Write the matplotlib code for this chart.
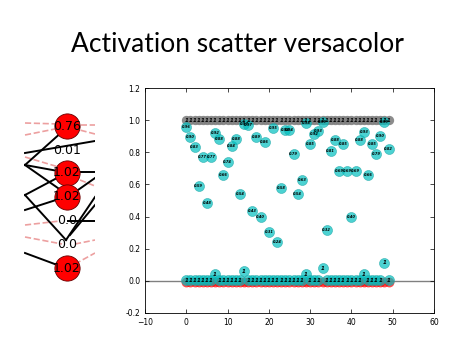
import numpy as np
import matplotlib
matplotlib.use("Agg")
import matplotlib.pyplot as plt

# --- data ---
idx = list(range(50))
top_vals = [1.0] * 50
low_vals = [0.005] * 50
for i, v in {7: 0.04, 14: 0.06, 29: 0.04, 33: 0.08, 43: 0.04, 48: 0.113}.items():
    low_vals[i] = v
red_vals = [-0.01] * 50
mid_vals = [0.96, 0.897, 0.835, 0.592, 0.77, 0.483, 0.77, 0.92, 0.88, 0.66,
            0.74, 0.84, 0.88, 0.54, 0.975, 0.97, 0.434, 0.893, 0.395, 0.862,
            0.306, 0.95, 0.244, 0.576, 0.94, 0.94, 0.79, 0.538, 0.63, 0.985,
            0.85, 0.915, 0.93, 0.99, 0.316, 0.805, 0.875, 0.685, 0.85, 0.685,
            0.398, 0.685, 0.875, 0.925, 0.66, 0.85, 0.79, 0.90, 0.99, 0.82]

# network panel (pixel-like coords)
node_y = [126, 150, 173, 197, 221, 244, 268]
node_lbl = ["0.76", "0.01", "1.02", "1.02", "0.0", "0.0", "1.02"]
node_red = [True, False, True, True, False, False, True]
node_x = 67
solid = [((25, 165), (63, 131)), ((25, 165), (58, 171)), ((25, 165), (75, 200)),
         ((25, 153), (95, 141)), ((80, 172), (95, 172)), ((25, 195), (57, 178)),
         ((25, 210), (56, 200)), ((25, 195), (66, 240)), ((66, 240), (95, 197)),
         ((68, 221), (95, 221)), ((70, 235), (95, 205)), ((25, 253), (60, 266)),
         ((78, 190), (95, 178))]
dashed = [((25, 123), (60, 124)), ((25, 135), (60, 128)), ((72, 125), (95, 125)),
          ((72, 128), (95, 134)), ((25, 157), (62, 168)), ((80, 180), (95, 186)),
          ((25, 225), (60, 221)), ((25, 237), (62, 244)), ((75, 264), (95, 253)),
          ((75, 244), (95, 240))]

fig = plt.figure(figsize=(4.74, 3.55), dpi=100)
fig.text(0.5, 0.875, "Activation scatter versacolor", ha='center', va='center',
         fontsize=19, family='Lato')

# left network sketch
axn = fig.add_axes([24/474, 1-290/355, 71/474, 180/355])
axn.set_xlim(24, 95); axn.set_ylim(290, 110)
axn.axis('off')
for (a, b) in dashed:
    axn.plot([a[0], b[0]], [a[1], b[1]], ls='--', color='#e88888', lw=1.2, alpha=0.8)
for (a, b) in solid:
    axn.plot([a[0], b[0]], [a[1], b[1]], color='black', lw=1.4)
for y, lab, red in zip(node_y, node_lbl, node_red):
    if red:
        axn.scatter([node_x], [y], s=330, c='red', edgecolors='#600', lw=0.6, zorder=3)
    axn.text(node_x, y, lab, ha='center', va='center', fontsize=9, zorder=4)

# main scatter
ax = fig.add_axes([145/474, 1-313/355, 289/474, 225/355])
ax.axhline(0, color='gray', lw=1, zorder=1)
ax.scatter(idx, red_vals, s=50, c='red', alpha=0.7, lw=0, zorder=2)
ax.scatter(idx, low_vals, s=52, c='c', alpha=0.7, lw=0.5, edgecolors='#2aa', zorder=3)
ax.scatter(idx, top_vals, s=45, c='gray', alpha=0.9, lw=0, zorder=3)
ax.scatter(idx, mid_vals, s=52, c='c', alpha=0.7, lw=0.5, edgecolors='#2aa', zorder=4)
for x, v in zip(idx, top_vals):
    ax.text(x, v, "1", fontsize=4, style='italic', weight='bold', ha='center', va='center', zorder=5)
for x, v in zip(idx, low_vals):
    ax.text(x, v, "1", fontsize=4, style='italic', weight='bold', ha='center', va='center', zorder=5)
for x, v in zip(idx, mid_vals):
    ax.text(x, v, "%.2f" % v, fontsize=2.6, style='italic', weight='bold', ha='center', va='center', zorder=5)
ax.set_xlim(-10, 60)
ax.set_ylim(-0.2, 1.2)
ax.set_xticks(range(-10, 61, 10))
ax.set_yticks(np.arange(-0.2, 1.21, 0.2))
ax.set_yticklabels(["%.1f" % t if abs(t) > 1e-9 else "0.0" for t in np.arange(-0.2, 1.21, 0.2)])
ax.tick_params(direction='in', top=True, right=True, labelsize=5.5, length=3, width=0.5)
for s in ax.spines.values():
    s.set_linewidth(0.6)

fig.savefig("out.png", dpi=100)
